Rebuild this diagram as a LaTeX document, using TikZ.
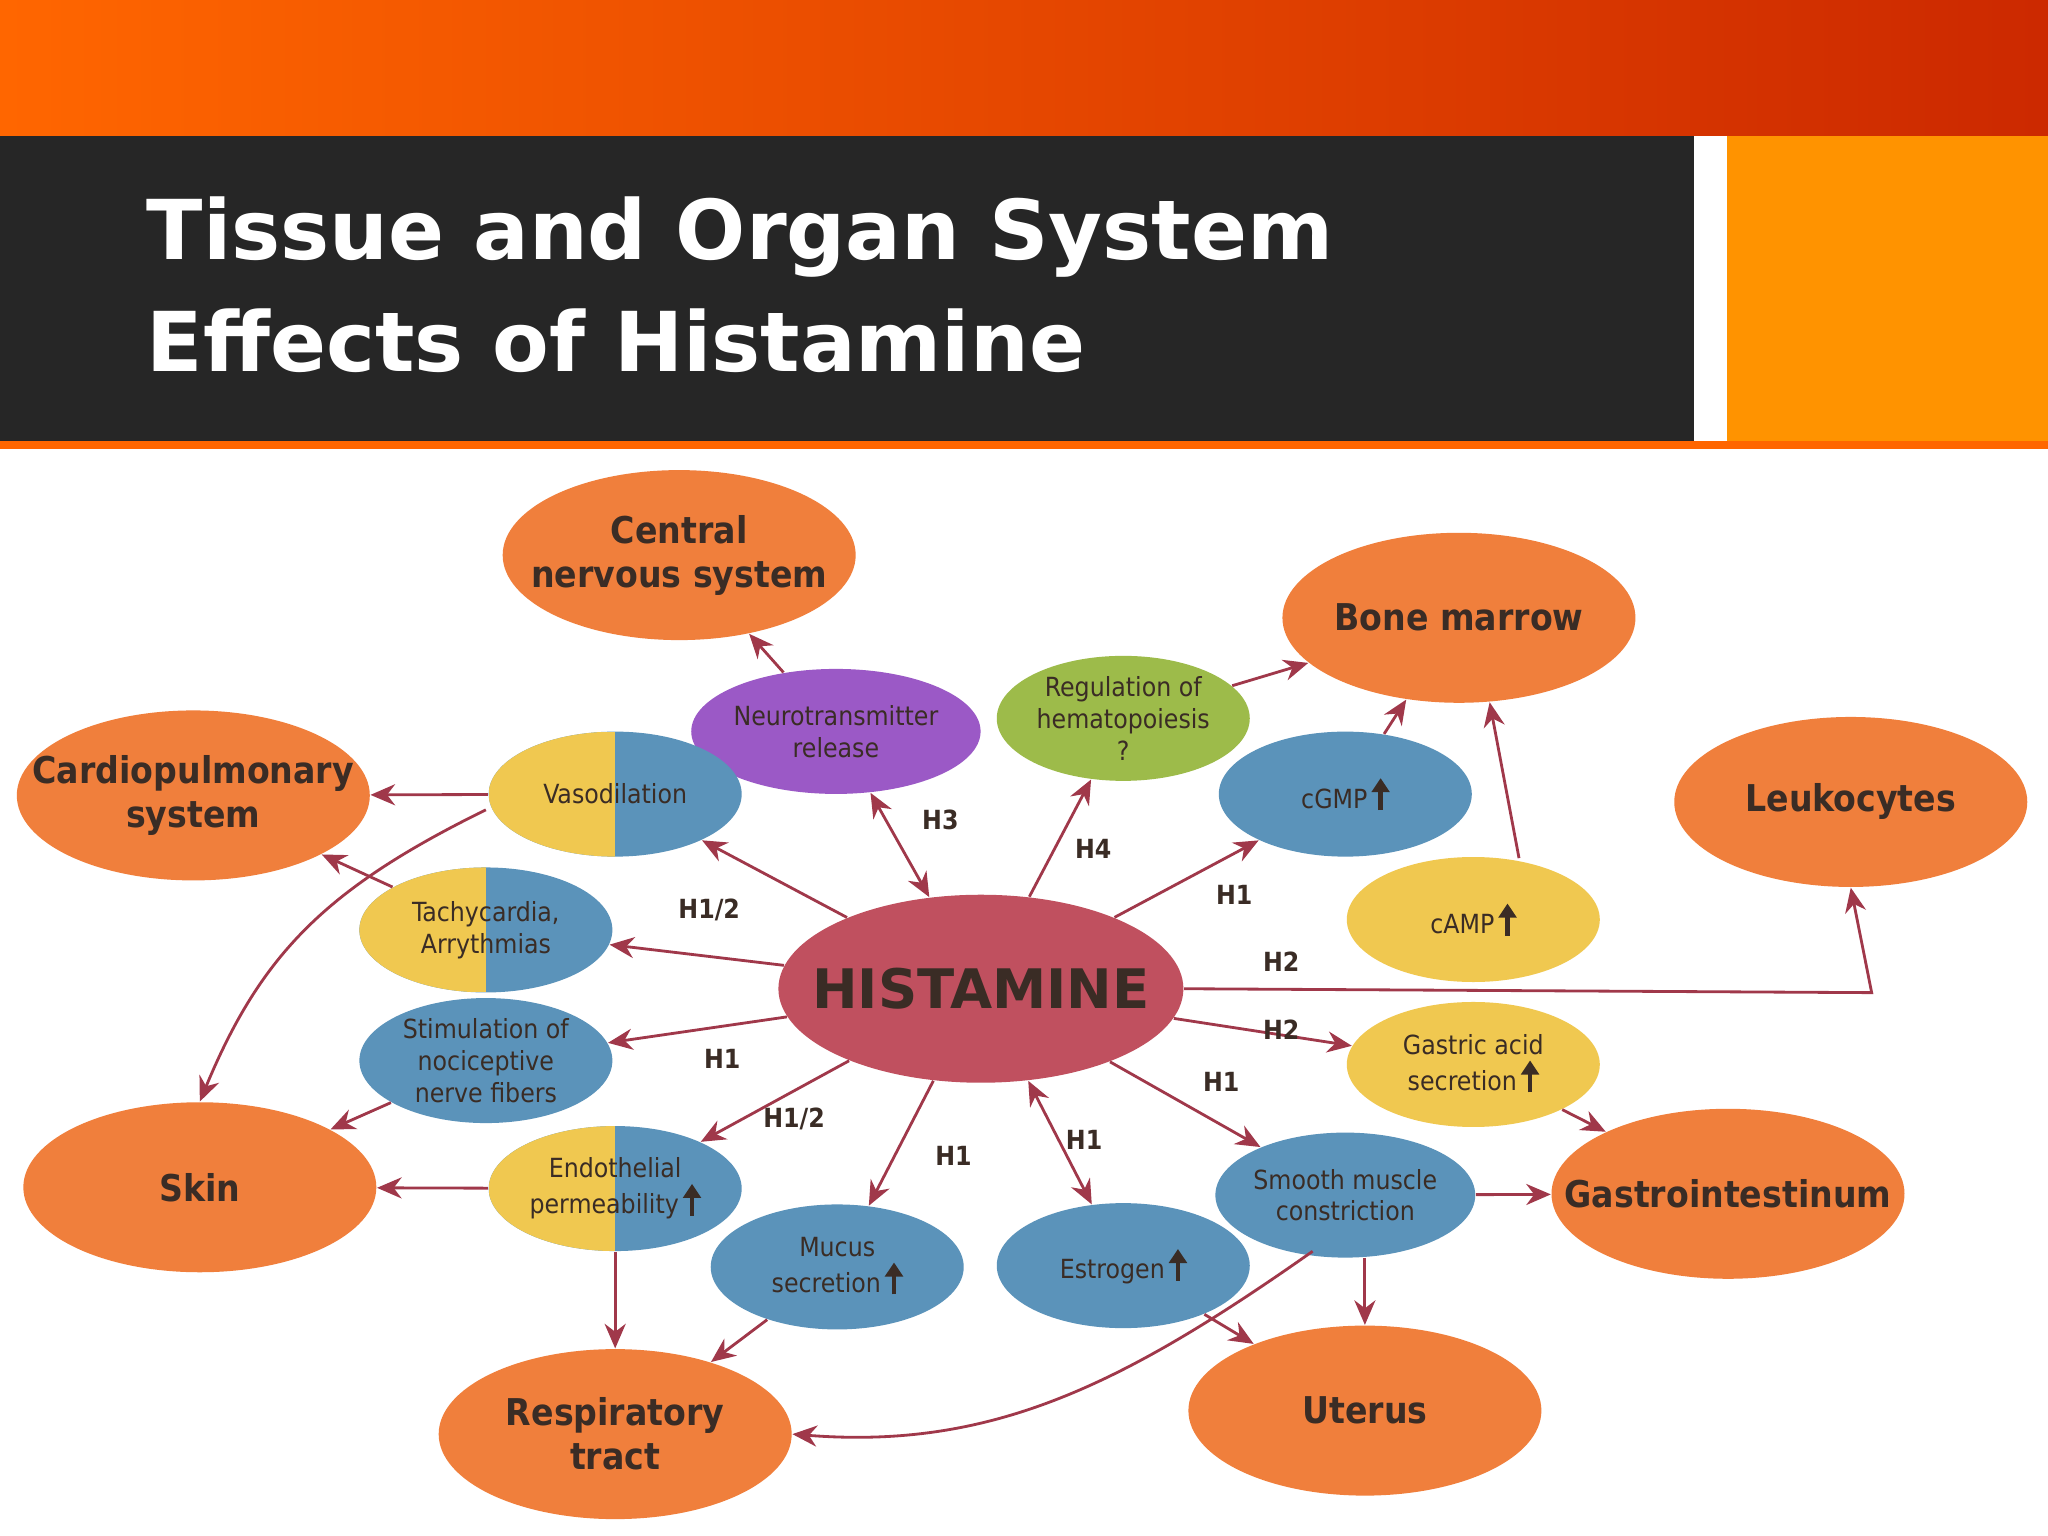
\documentclass[tikz,border=0pt]{standalone}
\usepackage{fontspec}
\setmainfont{DejaVu Sans}
\newfontfamily\cond{DejaVu Sans Condensed}
\usetikzlibrary{shapes.geometric,arrows.meta}
\definecolor{org}{HTML}{F07F3C}
\definecolor{blu}{HTML}{5B93BA}
\definecolor{yel}{HTML}{F0C850}
\definecolor{pur}{HTML}{9B59C6}
\definecolor{grn}{HTML}{9DBB4A}
\definecolor{his}{HTML}{C0505F}
\definecolor{arr}{HTML}{A0384A}
\definecolor{txt}{HTML}{3A2C25}
\newcommand{\myup}{\,\tikz[baseline=0pt,x=1cm,y=1cm]\draw[line width=1.2pt,-{Triangle[length=4pt,width=5pt]}] (0,-0.02) -- (0,0.3);}
\begin{document}
\begin{tikzpicture}[x=0.013061cm,y=-0.013061cm,
 big/.style={ellipse,fill=org,minimum width=3.53cm,minimum height=1.70cm,inner ysep=0,inner xsep=-16pt,align=center,text=txt,font=\cond\fontsize{10.5}{12.5}\selectfont\bfseries},
 sm/.style={ellipse,minimum width=2.53cm,minimum height=1.25cm,inner sep=0,align=center,text=txt,font=\cond\fontsize{7.5}{9}\selectfont},
 split/.style={sm,fill=blu,path picture={\fill[yel] (path picture bounding box.south west) rectangle (path picture bounding box.north);}},
 a/.style={draw=arr,line width=0.8pt,-{Stealth[length=7pt,width=6pt]}},
 b/.style={draw=arr,line width=0.8pt,{Stealth[length=7pt,width=6pt]}-{Stealth[length=7pt,width=6pt]}},
 lb/.style={font=\cond\fontsize{7.5}{9}\selectfont\bfseries,text=txt}]
\useasboundingbox (0,0) rectangle (1568,1176);
\shade[left color=orange!80!red, right color=red!60!orange!80!black] (0,0) rectangle (1568,104);
\fill[orange!80!red] (0,338) rectangle (1568,344);
\fill[white] (0,344) rectangle (1568,1176);
\fill[black!85] (0,104) rectangle (1297,338);
\fill[white] (1297,104) rectangle (1322,338);
\fill[orange!85!yellow] (1322,104) rectangle (1568,338);
\node[anchor=west,text=white,align=left,font=\fontsize{23.5}{32}\selectfont\bfseries] (title) at (103,218) {Tissue and Organ System\\Effects of Histamine};

\node[big] (cns) at (520,425) {Central\\nervous system};
\node[big] (bm) at (1117,473) {Bone marrow};
\node[big] (cp) at (148,609) {Cardiopulmonary\\system};
\node[big] (leu) at (1417,614) {Leukocytes};
\node[big] (skin) at (153,909) {Skin};
\node[big] (gi) at (1323,914) {Gastrointestinum};
\node[big] (rt) at (471,1098) {Respiratory\\tract};
\node[big] (ut) at (1045,1080) {Uterus};
\node[ellipse,fill=his,minimum width=4.05cm,minimum height=1.88cm,inner sep=0,inner xsep=-20pt,text=txt,font=\fontsize{15.5}{18}\selectfont\bfseries] (h) at (751,757) {HISTAMINE};
\node[sm,fill=pur] (nt) at (640,560) {Neurotransmitter\\release};
\node[sm,fill=grn] (reg) at (860,550) {Regulation of\\hematopoiesis\\?};
\node[sm,fill=blu] (cg) at (1030,608) {cGMP\myup};
\node[sm,fill=yel] (ca) at (1128,704) {cAMP\myup};
\node[split] (vas) at (471,608) {Vasodilation};
\node[split] (tac) at (372,712) {Tachycardia,\\Arrythmias};
\node[sm,fill=blu] (sti) at (372,812) {Stimulation of\\nociceptive\\nerve fibers};
\node[split] (end) at (471,910) {Endothelial\\permeability\myup};
\node[sm,fill=blu] (mu) at (641,970) {Mucus\\secretion\myup};
\node[sm,fill=blu] (es) at (860,969) {Estrogen\myup};
\node[sm,fill=blu] (smc) at (1030,915) {Smooth muscle\\constriction};
\node[sm,fill=yel] (ga) at (1128,815) {Gastric acid\\secretion\myup};

\draw[a] (nt) -- (cns);
\draw[b] (nt) -- (h);
\draw[a] (h) -- (reg);
\draw[a] (reg) -- (bm);
\draw[a] (h) -- (cg);
\draw[a] (cg) -- (bm);
\coordinate (c1) at (1163,657);
\draw[a] (c1) -- (bm.-70);
\draw[a] (h.east) -- (1433,760) -- (leu.south);
\draw[a] (h) -- (ga);
\draw[a] (ga) -- (gi);
\draw[a] (h) -- (smc);
\draw[a] (smc) -- (gi);
\coordinate (s1) at (1045,963);
\draw[a] (s1) -- (s1|-ut.north);
\coordinate (s2) at (1005,958);
\draw[a] (s2) .. controls (860,1060) and (760,1110) .. (rt.east);
\draw[b] (h) -- (es);
\draw[a] (es) -- (ut);
\draw[a] (h) -- (mu);
\draw[a] (mu) -- (rt);
\draw[a] (h) -- (end);
\draw[a] (end) -- (skin);
\draw[a] (end.south) -- (rt.north);
\draw[a] (h) -- (sti);
\draw[a] (sti) -- (skin);
\draw[a] (h) -- (tac);
\draw[a] (tac) -- (cp);
\draw[a] (h) -- (vas);
\draw[a] (vas) -- (cp);
\coordinate (v1) at (372,620);
\draw[a] (v1) .. controls (250,680) and (200,730) .. (skin.north);

\node[lb] at (720,628) {H3};
\node[lb] at (837,650) {H4};
\node[lb] at (945,685) {H1};
\node[lb] at (981,736) {H2};
\node[lb] at (981,788) {H2};
\node[lb] at (935,828) {H1};
\node[lb] at (830,873) {H1};
\node[lb] at (730,885) {H1};
\node[lb] at (608,857) {H1/2};
\node[lb] at (553,811) {H1};
\node[lb] at (543,697) {H1/2};
\end{tikzpicture}
\end{document}
